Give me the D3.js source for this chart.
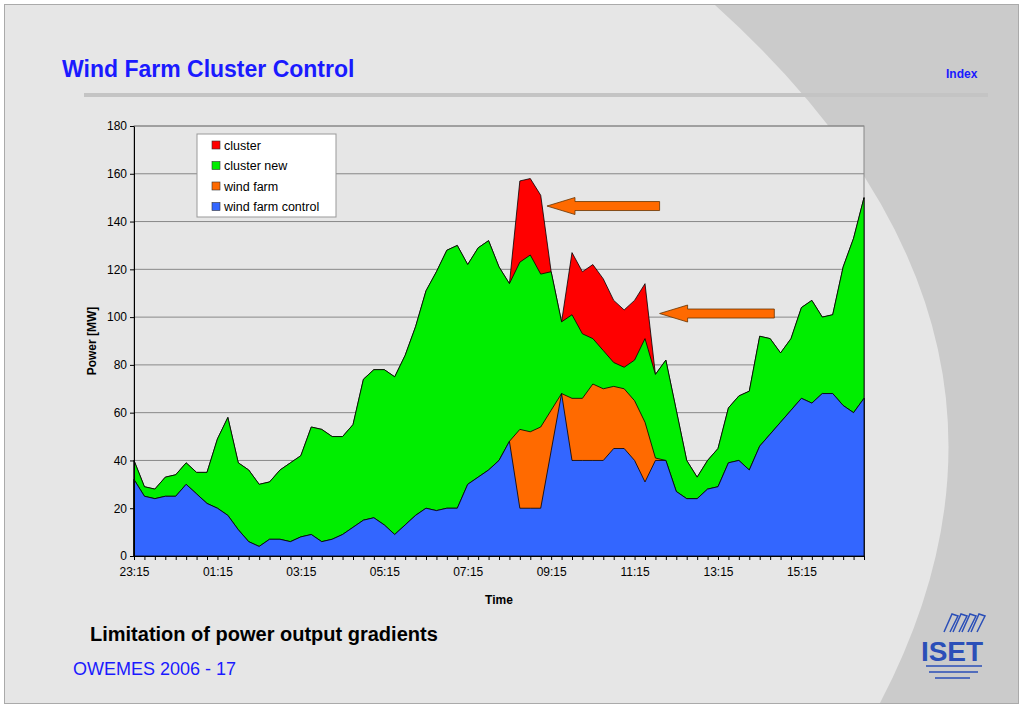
<!DOCTYPE html>
<html>
<head>
<meta charset="UTF-8" />
<script src="https://cdn.jsdelivr.net/npm/d3@7"></script>
<style>
  body { margin: 0; background: #fff; }
  svg { display: block; font-family: "Liberation Sans", Arial, sans-serif; }
</style>
</head>
<body>
<svg id="slide" width="1023" height="708"></svg>
<script>
// 15-minute steps from 23:15 to 16:45
const tickLabels = ["23:15", "01:15", "03:15", "05:15", "07:15", "09:15", "11:15", "13:15", "15:15"];
const clusterNew = [40, 29, 28, 33, 34, 39, 35, 35, 49, 58, 39, 36, 30, 31, 36, 39, 42, 54, 53, 50,
  50, 55, 74, 78, 78, 75, 84, 96, 111, 119, 128, 130, 122, 129, 132, 121, 114, 123, 126, 118,
  119, 98, 101, 93, 91, 86, 81, 79, 82, 91, 76, 82, 61, 40, 33, 40, 45, 62, 67, 69,
  92, 91, 85, 91, 104, 107, 100, 101, 121, 133, 150];
const cluster = [40, 29, 28, 33, 34, 39, 35, 35, 49, 58, 39, 36, 30, 31, 36, 39, 42, 54, 53, 50,
  50, 55, 74, 78, 78, 75, 84, 96, 111, 119, 128, 130, 122, 129, 132, 121, 114, 157, 158, 151,
  119, 98, 127, 119, 122, 116, 107, 103, 107, 114, 76, 82, 61, 40, 33, 40, 45, 62, 67, 69,
  92, 91, 85, 91, 104, 107, 100, 101, 121, 133, 150];
const windFarmControl = [32, 25, 24, 25, 25, 30, 26, 22, 20, 17, 11, 6, 4, 7, 7, 6, 8, 9, 6, 7,
  9, 12, 15, 16, 13, 9, 13, 17, 20, 19, 20, 20, 30, 33, 36, 40, 48, 20, 20, 20,
  44, 68, 40, 40, 40, 40, 45, 45, 40, 31, 40, 40, 27, 24, 24, 28, 29, 39, 40, 36,
  46, 51, 56, 61, 66, 64, 68, 68, 63, 60, 66];
const windFarm = [32, 25, 24, 25, 25, 30, 26, 22, 20, 17, 11, 6, 4, 7, 7, 6, 8, 9, 6, 7,
  9, 12, 15, 16, 13, 9, 13, 17, 20, 19, 20, 20, 30, 33, 36, 40, 48, 53, 52, 54,
  61, 68, 66, 66, 72, 70, 71, 70, 65, 56, 41, 40, 27, 24, 24, 28, 29, 39, 40, 36,
  46, 51, 56, 61, 66, 64, 68, 68, 63, 60, 66];
const yTicks = [0, 20, 40, 60, 80, 100, 120, 140, 160, 180];
const seriesNames = ["cluster", "cluster new", "wind farm", "wind farm control"];
const seriesColors = ["#ff0000", "#00ee00", "#ff6a00", "#3366ff"];

const svg = d3.select("#slide");

// slide background
svg.append("rect").attr("x", 4.5).attr("y", 4.5).attr("width", 1014).attr("height", 699)
  .attr("fill", "#e6e6e6").attr("stroke", "#aaa");
svg.append("path").attr("d", "M715,5 Q1075,330 880,703 L1018,703 L1018,5 Z").attr("fill", "#cbcbcb");

svg.append("text").attr("x", 62).attr("y", 77).attr("fill", "#1a1aff")
  .attr("font-size", 23).attr("font-weight", "bold").text("Wind Farm Cluster Control");
svg.append("text").attr("x", 946).attr("y", 78).attr("fill", "#1a1aff")
  .attr("font-size", 12).attr("font-weight", "bold").text("Index");
svg.append("line").attr("x1", 84).attr("x2", 988).attr("y1", 95).attr("y2", 95)
  .attr("stroke", "#c4c4c4").attr("stroke-width", 4);

// chart
const x = d3.scaleLinear().domain([0, clusterNew.length - 1]).range([134, 864]);
const y = d3.scaleLinear().domain([0, 180]).range([556, 126]);

svg.append("rect").attr("x", 134).attr("y", 126).attr("width", 730).attr("height", 430)
  .attr("fill", "#e6e6e6").attr("stroke", "#888");
svg.append("g").selectAll("line").data(yTicks.slice(1)).join("line")
  .attr("x1", 134).attr("x2", 864).attr("y1", d => y(d)).attr("y2", d => y(d))
  .attr("stroke", "#888").attr("stroke-width", 1);

const area = d3.area().x((d, i) => x(i)).y0(y(0)).y1(d => y(d));
[cluster, clusterNew, windFarm, windFarmControl].forEach((s, k) => {
  svg.append("path").attr("d", area(s)).attr("fill", seriesColors[k])
    .attr("stroke", "#000").attr("stroke-width", 0.8).attr("stroke-linejoin", "round");
});

// axes
const yAxis = svg.append("g").attr("transform", "translate(134,0)")
  .call(d3.axisLeft(y).tickValues(yTicks).tickSize(4).tickSizeOuter(0));
const xAxis = svg.append("g").attr("transform", "translate(0,556)")
  .call(d3.axisBottom(x).tickValues(d3.range(0, clusterNew.length)).tickSize(4).tickSizeOuter(0)
    .tickFormat(i => i % 8 === 0 ? tickLabels[i / 8] : ""));
[xAxis, yAxis].forEach(a => {
  a.selectAll("text").attr("font-size", 12).attr("fill", "#000")
    .attr("font-family", "Liberation Sans, Arial, sans-serif");
  a.selectAll("line,path").attr("stroke", "#000");
});
xAxis.selectAll("text").attr("dy", "1.1em");
svg.append("text").attr("x", 499).attr("y", 604).attr("text-anchor", "middle")
  .attr("font-size", 12).attr("font-weight", "bold").text("Time");
svg.append("text").attr("transform", "translate(96,341) rotate(-90)").attr("text-anchor", "middle")
  .attr("font-size", 12).attr("font-weight", "bold").text("Power [MW]");

// legend
const lg = svg.append("g").attr("transform", "translate(197,134)");
lg.append("rect").attr("width", 139).attr("height", 83).attr("fill", "#fff").attr("stroke", "#999");
seriesNames.forEach((n, k) => {
  lg.append("rect").attr("x", 15).attr("y", 7 + k * 20.5).attr("width", 8).attr("height", 8)
    .attr("fill", seriesColors[k]).attr("stroke", "#333").attr("stroke-width", 0.6);
  lg.append("text").attr("x", 27).attr("y", 15.5 + k * 20.5).attr("font-size", 12.5).text(n);
});

// arrows (annotations, in data coordinates)
function arrow(i0, i1, v) {
  const x0 = x(i0), x1 = x(i1), yc = y(v), h = 4.5, hh = 8.5, hl = 28;
  const pts = [[x1, yc], [x1 + hl, yc - hh], [x1 + hl, yc - h], [x0, yc - h], [x0, yc + h],
    [x1 + hl, yc + h], [x1 + hl, yc + hh]];
  svg.append("polygon").attr("points", pts.map(p => p.join(",")).join(" "))
    .attr("fill", "#ff6a00").attr("stroke", "#663300").attr("stroke-width", 0.8);
}
arrow(50.4, 39.6, 146.5);
arrow(61.4, 50.4, 101.5);

// footer
svg.append("text").attr("x", 90).attr("y", 641).attr("font-size", 20).attr("font-weight", "bold")
  .text("Limitation of power output gradients");
svg.append("text").attr("x", 73).attr("y", 675).attr("font-size", 18).attr("fill", "#1a1aff")
  .text("OWEMES 2006 - 17");

// ISET logo
const logo = svg.append("g").attr("fill", "none").attr("stroke", "#2b4fb8").attr("stroke-width", 1.5);
for (let k = 0; k < 4; k++) {
  logo.append("path").attr("d", `M${944 + k * 9},632 L${952 + k * 9},614 L${958 + k * 9},616 L${950 + k * 9},632`);
}
logo.append("text").attr("x", 952).attr("y", 661).attr("text-anchor", "middle").attr("fill", "#2b4fb8")
  .attr("stroke", "none").attr("font-size", 28).attr("font-weight", "bold")
  .attr("font-family", "Liberation Sans Narrow, Liberation Sans, sans-serif").text("ISET");
logo.append("path").attr("d", "M926,666 L982,666 M929,672 L978,672 M935,678 L970,678");
</script>
</body>
</html>
